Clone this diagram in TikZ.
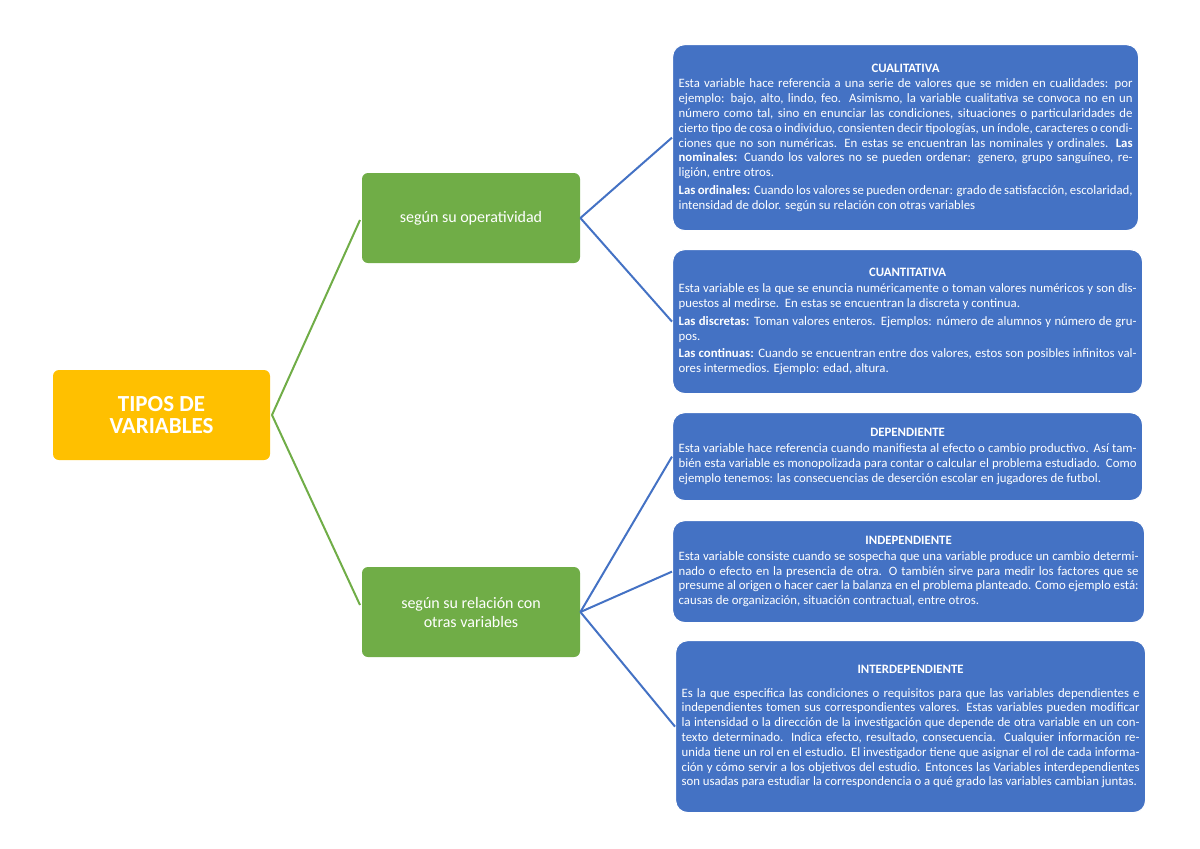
\documentclass[tikz,border=0pt]{standalone}
\usepackage{fontspec}
\setmainfont{Carlito}
\begin{document}
\begin{tikzpicture}[x=0.5pt,y=-0.5pt,
  bluebox/.style={draw=white,line width=0.6pt,fill=blu,rounded corners=6pt,text=white,inner sep=3pt,align=justify,font=\fontsize{6.4}{7.4}\selectfont,anchor=north west},
  greenbox/.style={fill=grn,rounded corners=3pt,text=white,align=center,font=\fontsize{8}{9.5}\selectfont,minimum width=109pt,minimum height=45pt},
  gl/.style={draw=grn,line width=1pt},
  bl/.style={draw=blu,line width=1pt}]
\definecolor{blu}{HTML}{4472C4}
\definecolor{grn}{HTML}{70AD47}
\definecolor{yel}{HTML}{FFC000}
\useasboundingbox (0,0) rectangle (1200,848);
\node[fill=yel,rounded corners=3pt,text=white,align=center,font=\bfseries\fontsize{11.5}{11}\selectfont,minimum width=108.5pt,minimum height=45pt] (tipos) at (161.5,415) {TIPOS DE\\VARIABLES};
\node[greenbox] (op) at (471,218) {según su operatividad};
\node[greenbox] (rel) at (471,612) {según su relación con\\otras variables};
\newcommand{\bx}[6]{\node[bluebox,text width=#3*0.5pt-6pt,minimum height=#4*0.5pt] (#5) at (#1,#2) {\centering\textbf{#6}\par\justifying};}
\node[bluebox,text width=227pt,minimum height=93pt] (c1) at (672,44) {\centerline{\textbf{CUALITATIVA}}\vspace{0.5pt}
Esta variable hace referencia a una serie de valores que se miden en cualidades: por ejemplo: bajo, alto, lindo, feo.\ \ Asimismo, la variable cualitativa se convoca no en un número como tal, sino en enunciar las condiciones, situaciones o particularidades de cierto tipo de cosa o individuo, consienten decir tipologías, un índole, caracteres o condiciones que no son numéricas. En estas se encuentran las nominales y ordinales. \textbf{Las nominales:} Cuando los valores no se pueden ordenar: genero, grupo sanguíneo, religión, entre otros.\par\vspace{1.5pt}
\textbf{Las ordinales:} Cuando los valores se pueden ordenar: grado de satisfacción, escolaridad, intensidad de dolor. según su relación con otras variables};
\node[bluebox,text width=229pt,minimum height=72pt] (c2) at (672,249) {\centerline{\textbf{CUANTITATIVA}}\vspace{0.5pt}
Esta variable es la que se enuncia numéricamente o toman valores numéricos y son dispuestos al medirse.\ \ En estas se encuentran la discreta y continua.\par\vspace{1.5pt}
\textbf{Las discretas:} Toman valores enteros. Ejemplos: número de alumnos y número de grupos.\par\vspace{1.5pt}
\textbf{Las continuas:} Cuando se encuentran entre dos valores, estos son posibles infinitos valores intermedios. Ejemplo: edad, altura.};
\node[bluebox,text width=229pt,minimum height=44pt] (d1) at (672,412) {\centerline{\textbf{DEPENDIENTE}}\vspace{0.5pt}
Esta variable hace referencia cuando manifiesta al efecto o cambio productivo. Así también esta variable es monopolizada para contar o calcular el problema estudiado.\ \ Como ejemplo tenemos: las consecuencias de deserción escolar en jugadores de futbol.};
\node[bluebox,text width=230pt,minimum height=51pt] (d2) at (672,520) {\centerline{\textbf{INDEPENDIENTE}}\vspace{0.5pt}
Esta variable consiste cuando se sospecha que una variable produce un cambio determinado o efecto en la presencia de otra. O también sirve para medir los factores que se presume al origen o hacer caer la balanza en el problema planteado. Como ejemplo está: causas de organización, situación contractual, entre otros.};
\node[bluebox,text width=229pt,minimum height=86pt] (d3) at (675,640) {\vspace{4pt}\centerline{\textbf{INTERDEPENDIENTE}}\vspace{0.5pt}
Es la que especifica las condiciones o requisitos para que las variables dependientes e independientes tomen sus correspondientes valores. Estas variables pueden modificar la intensidad o la dirección de la investigación que depende de otra variable en un contexto determinado. Indica efecto, resultado, consecuencia.\ \ Cualquier información reunida tiene un rol en el estudio. El investigador tiene que asignar el rol de cada información y cómo servir a los objetivos del estudio. Entonces las Variables interdependientes son usadas para estudiar la correspondencia o a qué grado las variables cambian juntas.};
\coordinate (t) at (272,415);
\draw[gl] (t) -- (360,220);
\draw[gl] (t) -- (360,605);
\draw[bl] (op.east) -- (c1.west);
\draw[bl] (op.east) -- (c2.west);
\draw[bl] (rel.east) -- (d1.west);
\draw[bl] (rel.east) -- (d2.west);
\draw[bl] (rel.east) -- (d3.west);
\end{tikzpicture}
\end{document}
